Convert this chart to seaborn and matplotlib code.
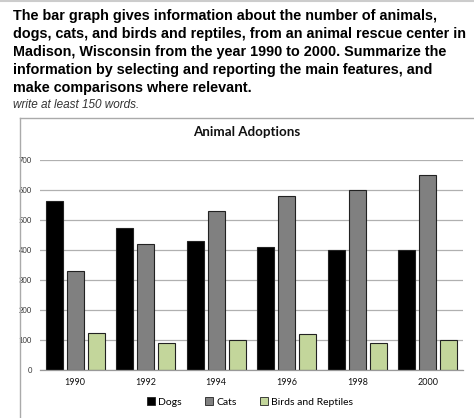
import matplotlib
matplotlib.use("Agg")
import matplotlib.pyplot as plt
import seaborn as sns
import pandas as pd
from matplotlib.patches import Patch
from matplotlib.lines import Line2D

years = ["1990", "1992", "1994", "1996", "1998", "2000"]
dogs = [565, 475, 430, 410, 400, 400]
cats = [330, 420, 530, 580, 600, 650]
birds = [125, 90, 100, 120, 90, 100]
series_names = ["Dogs", "Cats", "Birds and Reptiles"]
colors = ["#000000", "#808080", "#c3d69b"]
y_ticks = [0, 100, 200, 300, 400, 500, 600, 700]

prompt_lines = [
    "The bar graph gives information about the number of animals,",
    "dogs, cats, and birds and reptiles, from an animal rescue center in",
    "Madison, Wisconsin from the year 1990 to 2000. Summarize the",
    "information by selecting and reporting the main features, and",
    "make comparisons where relevant.",
]
note = "write at least 150 words."
title = "Animal Adoptions"

df = pd.DataFrame({
    "year": years * 3,
    "value": dogs + cats + birds,
    "series": [series_names[0]] * 6 + [series_names[1]] * 6 + [series_names[2]] * 6,
})

W, H = 474, 418
fig = plt.figure(figsize=(W / 100, H / 100), dpi=100)
fig.patch.set_facecolor("white")

def fx(px):
    return px / W

def fy(py):
    return 1 - py / H

ax = fig.add_axes([fx(40), fy(370), fx(463) - fx(40), fy(160) - fy(370)])
sns.barplot(data=df, x="year", y="value", hue="series", palette=colors,
            width=0.9, gap=0.2, edgecolor="#222222", linewidth=0.8,
            legend=False, ax=ax, saturation=1)
ax.set_ylim(0, 700)
ax.set_xlim(-0.5, 5.5)
ax.set_yticks(y_ticks)
ax.set_yticklabels([str(t) for t in y_ticks], fontsize=5.5, family="Lato", color="#333333")
ax.set_xticklabels(years, fontsize=6.5, family="Lato", color="#111111")
ax.tick_params(axis="y", length=0, pad=6)
ax.tick_params(axis="x", length=0, pad=6)
ax.set_xlabel("")
ax.set_ylabel("")
for s in ["top", "right", "left"]:
    ax.spines[s].set_visible(False)
ax.spines["bottom"].set_color("#999999")
ax.spines["bottom"].set_linewidth(0.9)
ax.yaxis.grid(True, color="#b0b0b0", linewidth=0.9)
ax.set_axisbelow(True)
ax.set_facecolor("white")

fig.text(fx(247), fy(132), title, ha="center", va="center", fontsize=9.6,
         fontweight="bold", family="Lato", color="#111111")

handles = [Patch(facecolor=c, edgecolor="#222222", linewidth=0.6) for c in colors]
fig.legend(handles, series_names, loc="center", bbox_to_anchor=(fx(250), fy(402)),
           ncol=3, frameon=False, prop={"family": "Lato", "size": 7.5},
           handlelength=0.8, handleheight=0.8, handletextpad=0.3, columnspacing=2.2)

fig.add_artist(Line2D([fx(20), fx(20)], [fy(118), fy(418)], color="#aaaaaa", linewidth=1))
fig.add_artist(Line2D([fx(20), fx(474)], [fy(118), fy(118)], color="#aaaaaa", linewidth=1))
fig.add_artist(Line2D([0, 1], [fy(1), fy(1)], color="#cccccc", linewidth=1.5))

baselines = [20, 38, 56, 74, 92]
for line, b in zip(prompt_lines, baselines):
    fig.text(fx(13), fy(b), line, ha="left", va="baseline", fontsize=10.4,
             fontweight="bold", family="Liberation Sans", color="#000000")
fig.text(fx(13), fy(108), note, ha="left", va="baseline", fontsize=8.5,
         style="italic", family="Liberation Sans", color="#333333")

fig.savefig("out.png", dpi=100, facecolor="white")
